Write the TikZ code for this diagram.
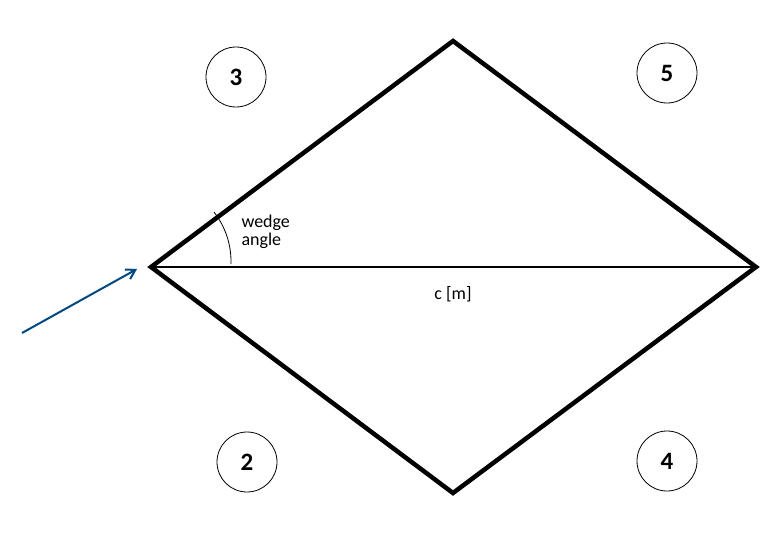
\documentclass[tikz,border=0pt]{standalone}
\usepackage{fontspec}
\usetikzlibrary{arrows.meta}
\setmainfont{Carlito}
\definecolor{arrowblue}{RGB}{0,72,130}
\begin{document}
\begin{tikzpicture}[x=1pt,y=-1pt,
  num/.style={draw,circle,line width=0.8pt,minimum size=60pt,inner sep=0pt,font=\fontsize{25}{30}\selectfont\bfseries},
  lbl/.style={font=\fontsize{18}{21}\selectfont,align=left}]
\useasboundingbox (0,0) rectangle (780,538);
\coordinate (L) at (151,267);
\coordinate (T) at (453,41);
\coordinate (R) at (756,267);
\coordinate (B) at (453,493);
\draw[line width=4.5pt,line join=miter] (L) -- (T) -- (R) -- (B) -- cycle;
\draw[line width=2.5pt] (L) -- (R);
\draw[line width=0.8pt] (L) ++(-2:80) arc[start angle=2,end angle=-38,radius=80];
\node[lbl,anchor=west] (w) at (238,232) {wedge\\[-3pt]angle};
\node[lbl] (c) at (453,294) {c [m]};
\coordinate (A0) at (22,333);
\coordinate (A1) at (137,269);
\draw[arrowblue,line width=2pt,-{Straight Barb[length=9pt,width=11pt]}] (A0) -- (A1);
\node[num] (n3) at (236,77) {3};
\node[num] (n5) at (667,73) {5};
\node[num] (n2) at (247,462) {2};
\node[num] (n4) at (667,461) {4};
\end{tikzpicture}
\end{document}
